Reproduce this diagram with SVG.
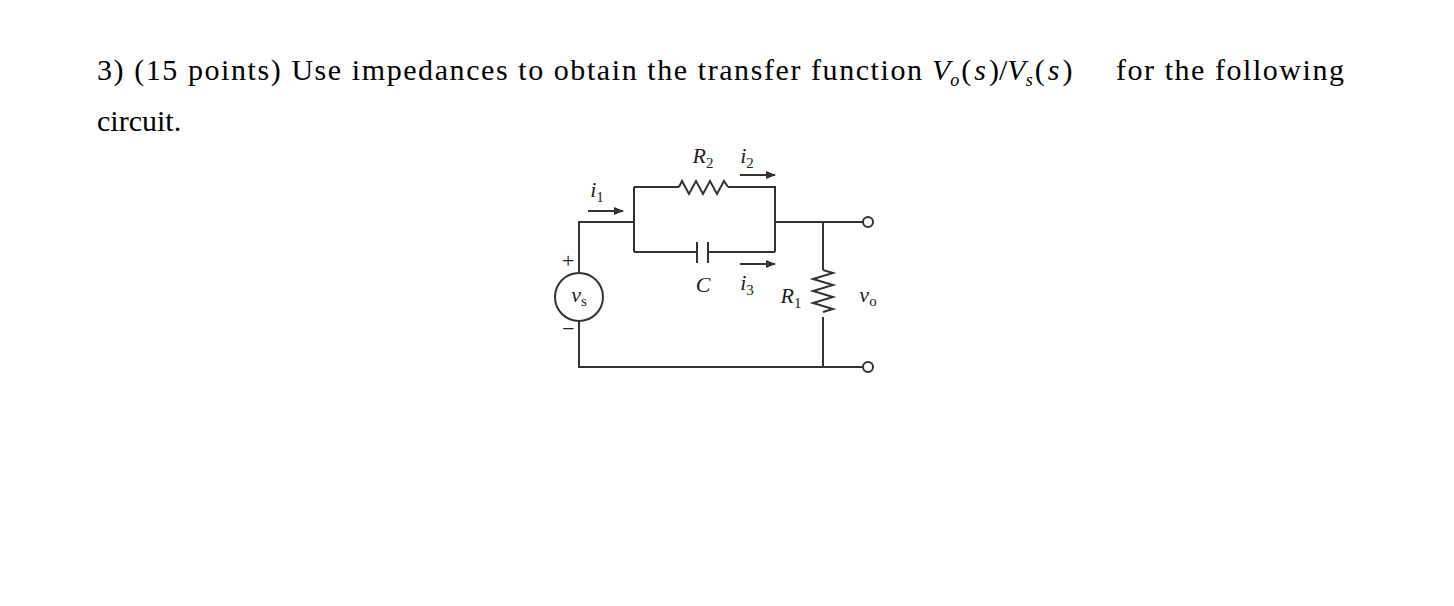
<svg xmlns="http://www.w3.org/2000/svg" width="1454" height="606" viewBox="0 0 1454 606">
<style>
.t{font-family:"Liberation Serif",serif;font-size:30px;fill:#000}
.l{font-family:"Liberation Serif",serif;font-size:22px;fill:#222;font-style:italic}
.s{font-size:15px;font-style:normal}
.w{fill:none;stroke:#333;stroke-width:2}
</style>
<defs><marker id="a" markerWidth="10" markerHeight="8" refX="9" refY="4" orient="auto" markerUnits="userSpaceOnUse"><path d="M0,0L10,4L0,8z" fill="#333"/></marker></defs>
<rect width="1454" height="606" fill="#fff"/>
<g id="title">
<text class="t" x="97" y="80" textLength="825" lengthAdjust="spacing">3) (15 points) Use impedances to obtain the transfer function</text>
<text class="t" x="932" y="80"><tspan font-style="italic">V</tspan><tspan font-size="18" font-style="italic" dy="6">o</tspan><tspan dy="-6" dx="2">(</tspan><tspan font-style="italic" dx="3">s</tspan><tspan dx="3">)/</tspan><tspan font-style="italic">V</tspan><tspan font-size="18" font-style="italic" dy="6">s</tspan><tspan dy="-6" dx="2">(</tspan><tspan font-style="italic" dx="3">s</tspan><tspan dx="3">)</tspan></text>
<text class="t" x="1116" y="80" textLength="228" lengthAdjust="spacing">for the following</text>
<text class="t" x="97" y="131">circuit.</text>
</g>
<g id="connectors">
<path class="w" d="M579,273V222H634M634,187V252M634,187H679M728,187H775V252M634,252H697M708,252H775M775,222H863M823,222V270M823,317V367M579,321V367H863"/>
<path class="w" d="M679,187l3,-6l7,13l7,-13l7,13l7,-13l7,13l7,-13l4,6"/>
<path class="w" d="M823,270l10,3l-20,6l20,6l-20,6l20,6l-20,6l20,6l-10,3"/>
<path class="w" d="M697,242V263M708,242V263"/>
<line class="w" x1="588" y1="211" x2="623" y2="211" marker-end="url(#a)" stroke-width="1.5"/>
<line class="w" x1="740" y1="175" x2="775" y2="175" marker-end="url(#a)" stroke-width="1.5"/>
<line class="w" x1="740" y1="264" x2="775" y2="264" marker-end="url(#a)" stroke-width="1.5"/>
</g>
<g id="source"><circle class="w" cx="579" cy="297" r="24"/><text class="l" x="579" y="302" text-anchor="middle">v<tspan class="s" font-style="italic" dy="4">s</tspan></text>
<text class="l" x="568" y="268" text-anchor="middle" font-style="normal" font-size="20">+</text><text class="l" x="568" y="336" text-anchor="middle" font-style="normal" font-size="20">−</text></g>
<g id="R2"><text class="l" x="703" y="163" text-anchor="middle">R<tspan class="s" dy="5">2</tspan></text></g>
<g id="i2"><text class="l" x="747" y="163" text-anchor="middle">i<tspan class="s" dy="5">2</tspan></text></g>
<g id="i1"><text class="l" x="597" y="197" text-anchor="middle">i<tspan class="s" dy="5">1</tspan></text></g>
<g id="C"><text class="l" x="703" y="292" text-anchor="middle">C</text></g>
<g id="i3"><text class="l" x="747" y="290" text-anchor="middle">i<tspan class="s" dy="5">3</tspan></text></g>
<g id="R1"><text class="l" x="791" y="303" text-anchor="middle">R<tspan class="s" dy="5">1</tspan></text></g>
<g id="vo"><text class="l" x="868" y="302" text-anchor="middle">v<tspan class="s" font-style="italic" dy="4">o</tspan></text></g>
<g id="terminals"><circle class="w" cx="868" cy="222" r="5" stroke-width="1.5"/><circle class="w" cx="868" cy="367" r="5" stroke-width="1.5"/></g>
</svg>
